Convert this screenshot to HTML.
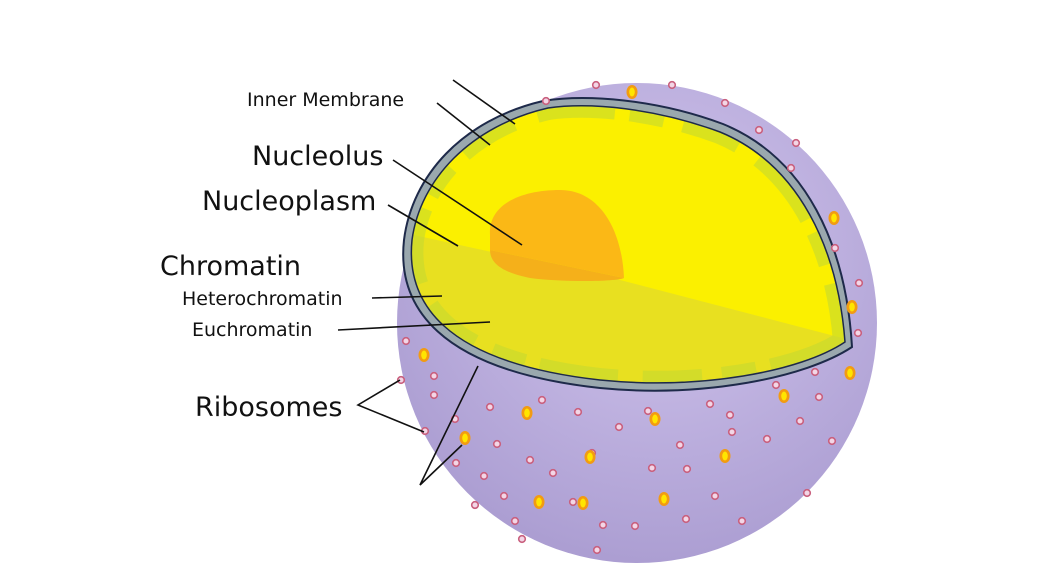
<!DOCTYPE html>
<html><head><meta charset="utf-8"><style>
html,body{margin:0;padding:0;background:#fff;}
svg{display:block}
text{font-family:"DejaVu Sans","Liberation Sans",sans-serif;fill:#111}
</style></head><body>
<svg width="1040" height="585" viewBox="0 0 1040 585" xmlns="http://www.w3.org/2000/svg">
<defs>
<radialGradient id="pg" cx="0.55" cy="0.35" r="0.7">
<stop offset="0" stop-color="#d2c6ee"/><stop offset="1" stop-color="#a99bd0"/>
</radialGradient>
<clipPath id="nc"><path d="M845,342 C838,250 800,165 720,132 C655,108 590,102 548,108 C470,126 420,180 412,240 C406,300 440,362 600,380 C700,390 800,372 845,342 Z"/></clipPath>
<g id="r"><circle r="3.3" fill="#f3d6e6" stroke="#c9607e" stroke-width="1.6"/></g>
<g id="y"><ellipse rx="5.5" ry="7" fill="#f29b12"/><ellipse rx="2.8" ry="4.5" fill="#ffe500"/></g>
</defs>
<circle cx="637" cy="323" r="240" fill="url(#pg)"/>
<path d="M852,347 C846,245 806,158 723,124 C656,99 586,94 543,101 C462,120 412,176 404,240 C397,304 435,370 600,388 C702,398 805,378 852,347 Z" fill="#9aa8ae" stroke="#1e2a4a" stroke-width="2"/>
<g clip-path="url(#nc)">
<rect x="400" y="100" width="460" height="300" fill="#e8e020"/>
<path d="M400,232 L620,280 L850,340 L850,90 L400,90 Z" fill="#fbf000"/>
<path d="M845,342 C838,250 800,165 720,132 C655,108 590,102 548,108 C470,126 420,180 412,240 C406,300 440,362 600,380 C700,390 800,372 845,342 Z" fill="none" stroke="#c4d830" stroke-width="24" stroke-dasharray="60 20 35 15 80 25" opacity="0.6"/>
<path d="M490,235 C488,205 520,190 560,190 C600,190 622,230 624,278 L490,250 Z" fill="#fbb816"/>
<path d="M490,250 L624,278 C615,282 560,282 530,278 C500,272 490,262 490,250 Z" fill="#f5b01a"/>
</g>
<path d="M845,342 C838,250 800,165 720,132 C655,108 590,102 548,108 C470,126 420,180 412,240 C406,300 440,362 600,380 C700,390 800,372 845,342 Z" fill="none" stroke="#1e2a4a" stroke-width="1.5"/>
<g>
<use href="#r" x="596" y="85"/><use href="#r" x="672" y="85"/><use href="#r" x="546" y="101"/><use href="#r" x="725" y="103"/>
<use href="#r" x="759" y="130"/><use href="#r" x="796" y="143"/><use href="#r" x="791" y="168"/><use href="#r" x="835" y="248"/>
<use href="#r" x="859" y="283"/><use href="#r" x="858" y="333"/><use href="#r" x="406" y="341"/><use href="#r" x="434" y="376"/>
<use href="#r" x="401" y="380"/><use href="#r" x="434" y="395"/><use href="#r" x="425" y="431"/><use href="#r" x="455" y="419"/>
<use href="#r" x="490" y="407"/><use href="#r" x="542" y="400"/><use href="#r" x="578" y="412"/><use href="#r" x="497" y="444"/>
<use href="#r" x="456" y="463"/><use href="#r" x="484" y="476"/><use href="#r" x="530" y="460"/><use href="#r" x="553" y="473"/>
<use href="#r" x="592" y="453"/><use href="#r" x="603" y="525"/><use href="#r" x="504" y="496"/><use href="#r" x="515" y="521"/>
<use href="#r" x="475" y="505"/><use href="#r" x="522" y="539"/><use href="#r" x="573" y="502"/><use href="#r" x="597" y="550"/>
<use href="#r" x="635" y="526"/><use href="#r" x="686" y="519"/><use href="#r" x="648" y="411"/><use href="#r" x="619" y="427"/>
<use href="#r" x="680" y="445"/><use href="#r" x="687" y="469"/><use href="#r" x="652" y="468"/><use href="#r" x="710" y="404"/>
<use href="#r" x="715" y="496"/><use href="#r" x="732" y="432"/><use href="#r" x="730" y="415"/><use href="#r" x="767" y="439"/>
<use href="#r" x="776" y="385"/><use href="#r" x="800" y="421"/><use href="#r" x="807" y="493"/><use href="#r" x="742" y="521"/>
<use href="#r" x="832" y="441"/><use href="#r" x="819" y="397"/><use href="#r" x="815" y="372"/>
</g>
<g>
<use href="#y" x="632" y="92"/><use href="#y" x="834" y="218"/><use href="#y" x="852" y="307"/><use href="#y" x="850" y="373"/>
<use href="#y" x="424" y="355"/><use href="#y" x="465" y="438"/><use href="#y" x="527" y="413"/><use href="#y" x="583" y="503"/>
<use href="#y" x="590" y="457"/><use href="#y" x="655" y="419"/><use href="#y" x="664" y="499"/><use href="#y" x="725" y="456"/>
<use href="#y" x="784" y="396"/><use href="#y" x="539" y="502"/>
</g>
<g stroke="#111" stroke-width="1.6" fill="none">
<line x1="453" y1="80" x2="515" y2="124"/>
<line x1="437" y1="103" x2="490" y2="145"/>
<line x1="393" y1="160" x2="522" y2="245"/>
<line x1="388" y1="205" x2="458" y2="246"/>
<line x1="372" y1="298" x2="442" y2="296"/>
<line x1="338" y1="330" x2="490" y2="322"/>
<polyline points="400,380 358,405 424,432"/>
<polyline points="478,366 420,485 462,445"/>
</g>
<text x="247" y="106" font-size="19">Inner Membrane</text>
<text x="252" y="165" font-size="27">Nucleolus</text>
<text x="202" y="210" font-size="27">Nucleoplasm</text>
<text x="160" y="275" font-size="27">Chromatin</text>
<text x="182" y="305" font-size="19">Heterochromatin</text>
<text x="192" y="336" font-size="19">Euchromatin</text>
<text x="195" y="416" font-size="27">Ribosomes</text>
</svg>
</body></html>
